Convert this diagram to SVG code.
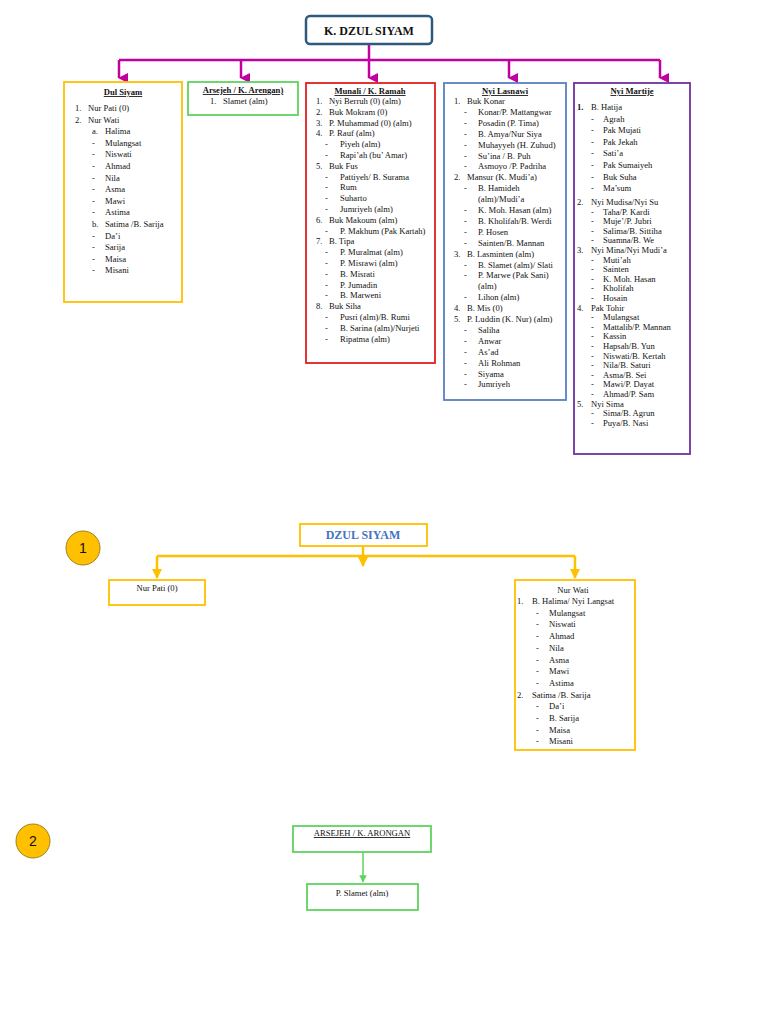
<svg xmlns="http://www.w3.org/2000/svg" width="768" height="1024" viewBox="0 0 768 1024">
<defs>
<style>
text{font-family:"Liberation Serif","Times New Roman",serif;font-size:8.6px;fill:#111}
.t{font-weight:bold;text-decoration:underline;text-anchor:middle}
.c{text-anchor:middle}
.box{fill:#fff;stroke-width:1.8}
.mag{stroke:#c0009f;stroke-width:2.5;fill:none}
.yel{stroke:#ffc000;stroke-width:2.5;fill:none}
.grn{stroke:#5fd35f;stroke-width:1.5;fill:none}
.num{font-family:"Liberation Sans",Arial,sans-serif;font-size:14px;text-anchor:middle}
</style>
<marker id="am" viewBox="0 0 10 10" refX="5" refY="9" markerWidth="4" markerHeight="4" orient="auto-start-reverse"><path d="M0,0 L10,0 L5,10z" fill="#c0009f" transform="rotate(0)"/></marker>
<marker id="ay" viewBox="0 0 10 10" refX="5" refY="9" markerWidth="4" markerHeight="4"><path d="M0,0 L10,0 L5,10z" fill="#ffc000"/></marker>
<marker id="ag" viewBox="0 0 10 10" refX="5" refY="9" markerWidth="5" markerHeight="5"><path d="M0,0 L10,0 L5,10z" fill="#5fd35f"/></marker>
</defs>
<rect width="768" height="1024" fill="#fff"/>
<g id="connectors">
<path class="mag" d="M369,44 V60 M119,60 H660"/>
<path class="mag" d="M119,60 V78" marker-end="url(#am)"/>
<path class="mag" d="M241,60 V78" marker-end="url(#am)"/>
<path class="mag" d="M369,60 V78" marker-end="url(#am)"/>
<path class="mag" d="M509,60 V78" marker-end="url(#am)"/>
<path class="mag" d="M660,60 V78" marker-end="url(#am)"/>
<path class="yel" d="M157,556 H575"/>
<path class="yel" d="M363,546 V566" marker-end="url(#ay)"/>
<path class="yel" d="M157,556 V578" marker-end="url(#ay)"/>
<path class="yel" d="M575,556 V578" marker-end="url(#ay)"/>
<path class="grn" d="M363,852 V882" marker-end="url(#ag)"/>
</g>
<g id="root">
<rect x="306" y="16" width="126" height="28" rx="4" fill="#fff" stroke="#2e5a7e" stroke-width="2.5"/>
<text x="369" y="35" class="c" style="font-size:12px;font-weight:bold">K. DZUL SIYAM</text>
</g>
<g id="dul-siyam">
<rect class="box" x="64" y="82" width="118" height="220" stroke="#ffc000"/>
<text class="t" x="123" y="95">Dul Siyam</text>
<text x="75" y="111">1.</text><text x="88" y="111">Nur Pati (0)</text>
<text x="75" y="122.6">2.</text><text x="88" y="122.6">Nur Wati</text>
<text x="92" y="134.2">a.</text><text x="105" y="134.2">Halima</text>
<text x="92" y="145.8">-</text><text x="105" y="145.8">Mulangsat</text>
<text x="92" y="157.4">-</text><text x="105" y="157.4">Niswati</text>
<text x="92" y="169">-</text><text x="105" y="169">Ahmad</text>
<text x="92" y="180.6">-</text><text x="105" y="180.6">Nila</text>
<text x="92" y="192.2">-</text><text x="105" y="192.2">Asma</text>
<text x="92" y="203.8">-</text><text x="105" y="203.8">Mawi</text>
<text x="92" y="215.4">-</text><text x="105" y="215.4">Astima</text>
<text x="92" y="227">b.</text><text x="105" y="227">Satima /B. Sarija</text>
<text x="92" y="238.6">-</text><text x="105" y="238.6">Da’i</text>
<text x="92" y="250.2">-</text><text x="105" y="250.2">Sarija</text>
<text x="92" y="261.8">-</text><text x="105" y="261.8">Maisa</text>
<text x="92" y="273.4">-</text><text x="105" y="273.4">Misani</text>
</g>
<g id="arsejeh">
<rect class="box" x="188" y="82" width="110" height="33" stroke="#5fd35f"/>
<text class="t" x="243" y="93">Arsejeh / K. Arengan)</text>
<text x="210" y="104">1.</text><text x="223" y="104">Slamet (alm)</text>
</g>
<g id="munali">
<rect class="box" x="306" y="83" width="129" height="280" stroke="#e02020"/>
<text class="t" x="370" y="94">Munali / K. Ramah</text>
<g>
<text x="316" y="104">1.</text><text x="329" y="104">Nyi Berruh (0) (alm)</text>
<text x="316" y="114.8">2.</text><text x="329" y="114.8">Buk Mokram (0)</text>
<text x="316" y="125.6">3.</text><text x="329" y="125.6">P. Muhammad (0) (alm)</text>
<text x="316" y="136.4">4.</text><text x="329" y="136.4">P. Rauf (alm)</text>
<text x="325" y="147.2">-</text><text x="340" y="147.2">Piyeh (alm)</text>
<text x="325" y="158">-</text><text x="340" y="158">Rapi’ah (bu’ Amar)</text>
<text x="316" y="168.8">5.</text><text x="329" y="168.8">Buk Fus</text>
<text x="325" y="179.6">-</text><text x="340" y="179.6">Pattiyeh/ B. Surama</text>
<text x="325" y="190.4">-</text><text x="340" y="190.4">Rum</text>
<text x="325" y="201.2">-</text><text x="340" y="201.2">Suharto</text>
<text x="325" y="212">-</text><text x="340" y="212">Jumriyeh (alm)</text>
<text x="316" y="222.8">6.</text><text x="329" y="222.8">Buk Makoum (alm)</text>
<text x="325" y="233.6">-</text><text x="340" y="233.6">P. Makhum (Pak Kartah)</text>
<text x="316" y="244.4">7.</text><text x="329" y="244.4">B. Tipa</text>
<text x="325" y="255.2">-</text><text x="340" y="255.2">P. Muralmat (alm)</text>
<text x="325" y="266">-</text><text x="340" y="266">P. Misrawi (alm)</text>
<text x="325" y="276.8">-</text><text x="340" y="276.8">B. Misrati</text>
<text x="325" y="287.6">-</text><text x="340" y="287.6">P. Jumadin</text>
<text x="325" y="298.4">-</text><text x="340" y="298.4">B. Marweni</text>
<text x="316" y="309.2">8.</text><text x="329" y="309.2">Buk Siha</text>
<text x="325" y="320">-</text><text x="340" y="320">Pusri (alm)/B. Rumi</text>
<text x="325" y="330.8">-</text><text x="340" y="330.8">B. Sarina (alm)/Nurjeti</text>
<text x="325" y="341.6">-</text><text x="340" y="341.6">Ripatma (alm)</text>
</g>
</g>
<g id="nyi-lasnawi">
<rect class="box" x="444" y="83" width="122" height="317" stroke="#5a80c0"/>
<text class="t" x="505" y="94">Nyi Lasnawi</text>
<text x="454" y="104">1.</text><text x="467" y="104">Buk Konar</text>
<text x="464" y="114.9">-</text><text x="478" y="114.9">Konar/P. Mattangwar</text>
<text x="464" y="125.8">-</text><text x="478" y="125.8">Posadin (P. Tima)</text>
<text x="464" y="136.7">-</text><text x="478" y="136.7">B. Amya/Nur Siya</text>
<text x="464" y="147.6">-</text><text x="478" y="147.6">Muhayyeh (H. Zuhud)</text>
<text x="464" y="158.5">-</text><text x="478" y="158.5">Su’ina / B. Puh</text>
<text x="464" y="169.4">-</text><text x="478" y="169.4">Asmoyo /P. Padriha</text>
<text x="454" y="180.3">2.</text><text x="467" y="180.3">Mansur (K. Mudi’a)</text>
<text x="464" y="191.2">-</text><text x="478" y="191.2">B. Hamideh</text>
<text x="478" y="202.1">(alm)/Mudi’a</text>
<text x="464" y="213">-</text><text x="478" y="213">K. Moh. Hasan (alm)</text>
<text x="464" y="223.9">-</text><text x="478" y="223.9">B. Kholifah/B. Werdi</text>
<text x="464" y="234.8">-</text><text x="478" y="234.8">P. Hosen</text>
<text x="464" y="245.7">-</text><text x="478" y="245.7">Sainten/B. Mannan</text>
<text x="454" y="256.6">3.</text><text x="467" y="256.6">B. Lasminten (alm)</text>
<text x="464" y="267.5">-</text><text x="478" y="267.5">B. Slamet (alm)/ Slati</text>
<text x="464" y="278.4">-</text><text x="478" y="278.4">P. Marwe (Pak Sani)</text>
<text x="478" y="289.3">(alm)</text>
<text x="464" y="300.2">-</text><text x="478" y="300.2">Lihon (alm)</text>
<text x="454" y="311.1">4.</text><text x="467" y="311.1">B. Mis (0)</text>
<text x="454" y="322">5.</text><text x="467" y="322">P. Luddin (K. Nur) (alm)</text>
<text x="464" y="332.9">-</text><text x="478" y="332.9">Saliha</text>
<text x="464" y="343.8">-</text><text x="478" y="343.8">Anwar</text>
<text x="464" y="354.7">-</text><text x="478" y="354.7">As’ad</text>
<text x="464" y="365.6">-</text><text x="478" y="365.6">Ali Rohman</text>
<text x="464" y="376.5">-</text><text x="478" y="376.5">Siyama</text>
<text x="464" y="387.4">-</text><text x="478" y="387.4">Jumriyeh</text>
</g>
<g id="nyi-martije">
<rect class="box" x="574" y="83" width="116" height="371" stroke="#7030a0"/>
<text class="t" x="632" y="94">Nyi Martije</text>
<text x="577" y="110" style="font-weight:bold">1.</text><text x="591" y="110">B. Hatija</text>
<text x="591" y="121.6">-</text><text x="603" y="121.6">Agrah</text>
<text x="591" y="133.2">-</text><text x="603" y="133.2">Pak Mujati</text>
<text x="591" y="144.8">-</text><text x="603" y="144.8">Pak Jekah</text>
<text x="591" y="156.4">-</text><text x="603" y="156.4">Sati’a</text>
<text x="591" y="168">-</text><text x="603" y="168">Pak Sumaiyeh</text>
<text x="591" y="179.6">-</text><text x="603" y="179.6">Buk Suha</text>
<text x="591" y="191.2">-</text><text x="603" y="191.2">Ma’sum</text>
<text x="577" y="205">2.</text><text x="591" y="205">Nyi Mudisa/Nyi Su</text>
<text x="591" y="214.6">-</text><text x="603" y="214.6">Taha/P. Kardi</text>
<text x="591" y="224.2">-</text><text x="603" y="224.2">Muje’/P. Jubri</text>
<text x="591" y="233.8">-</text><text x="603" y="233.8">Salima/B. Sittiha</text>
<text x="591" y="243.4">-</text><text x="603" y="243.4">Suamna/B. We</text>
<text x="577" y="253">3.</text><text x="591" y="253">Nyi Mina/Nyi Mudi’a</text>
<text x="591" y="262.6">-</text><text x="603" y="262.6">Muti’ah</text>
<text x="591" y="272.2">-</text><text x="603" y="272.2">Sainten</text>
<text x="591" y="281.8">-</text><text x="603" y="281.8">K. Moh. Hasan</text>
<text x="591" y="291.4">-</text><text x="603" y="291.4">Kholifah</text>
<text x="591" y="301">-</text><text x="603" y="301">Hosain</text>
<text x="577" y="310.6">4.</text><text x="591" y="310.6">Pak Tohir</text>
<text x="591" y="320.2">-</text><text x="603" y="320.2">Mulangsat</text>
<text x="591" y="329.8">-</text><text x="603" y="329.8">Mattalib/P. Mannan</text>
<text x="591" y="339.4">-</text><text x="603" y="339.4">Kassin</text>
<text x="591" y="349">-</text><text x="603" y="349">Hapsah/B. Yun</text>
<text x="591" y="358.6">-</text><text x="603" y="358.6">Niswati/B. Kertah</text>
<text x="591" y="368.2">-</text><text x="603" y="368.2">Nila/B. Saturi</text>
<text x="591" y="377.8">-</text><text x="603" y="377.8">Asma/B. Sei</text>
<text x="591" y="387.4">-</text><text x="603" y="387.4">Mawi/P. Dayat</text>
<text x="591" y="397">-</text><text x="603" y="397">Ahmad/P. Sam</text>
<text x="577" y="406.6">5.</text><text x="591" y="406.6">Nyi Sima</text>
<text x="591" y="416.2">-</text><text x="603" y="416.2">Sima/B. Agrun</text>
<text x="591" y="425.8">-</text><text x="603" y="425.8">Puya/B. Nasi</text>
</g>
<g id="badge-1">
<circle cx="83" cy="548" r="17" fill="#ffc000" stroke="#a08020" stroke-width="1"/>
<text class="num" x="83" y="553">1</text>
</g>
<g id="dzul-siyam">
<rect class="box" x="300" y="524" width="127" height="22" stroke="#ffc000"/>
<text x="363" y="539" class="c" style="font-size:12px;font-weight:bold;fill:#4472c4">DZUL SIYAM</text>
</g>
<g id="nur-pati">
<rect class="box" x="109" y="580" width="96" height="25" stroke="#ffc000"/>
<text x="157" y="591" class="c">Nur Pati (0)</text>
</g>
<g id="nur-wati">
<rect class="box" x="515" y="580" width="120" height="170" stroke="#ffc000"/>
<text x="573" y="593" class="c">Nur Wati</text>
<text x="517" y="604">1.</text><text x="532" y="604">B. Halima/ Nyi Langsat</text>
<text x="536" y="615.7">-</text><text x="549" y="615.7">Mulangsat</text>
<text x="536" y="627.4">-</text><text x="549" y="627.4">Niswati</text>
<text x="536" y="639.1">-</text><text x="549" y="639.1">Ahmad</text>
<text x="536" y="650.8">-</text><text x="549" y="650.8">Nila</text>
<text x="536" y="662.5">-</text><text x="549" y="662.5">Asma</text>
<text x="536" y="674.2">-</text><text x="549" y="674.2">Mawi</text>
<text x="536" y="685.9">-</text><text x="549" y="685.9">Astima</text>
<text x="517" y="697.6">2.</text><text x="532" y="697.6">Satima /B. Sarija</text>
<text x="536" y="709.3">-</text><text x="549" y="709.3">Da’i</text>
<text x="536" y="721">-</text><text x="549" y="721">B. Sarija</text>
<text x="536" y="732.7">-</text><text x="549" y="732.7">Maisa</text>
<text x="536" y="744.4">-</text><text x="549" y="744.4">Misani</text>
</g>
<g id="badge-2">
<circle cx="33" cy="841" r="17" fill="#ffc000" stroke="#a08020" stroke-width="1"/>
<text class="num" x="33" y="846">2</text>
</g>
<g id="arsejeh-2">
<rect class="box" x="293" y="826" width="138" height="26" stroke="#5fd35f" stroke-width="1.5"/>
<text x="362" y="836" class="c" style="text-decoration:underline">ARSEJEH / K. ARONGAN</text>
</g>
<g id="p-slamet">
<rect class="box" x="307" y="884" width="111" height="26" stroke="#5fd35f"/>
<text x="362" y="896" class="c">P. Slamet (alm)</text>
</g>
</svg>
